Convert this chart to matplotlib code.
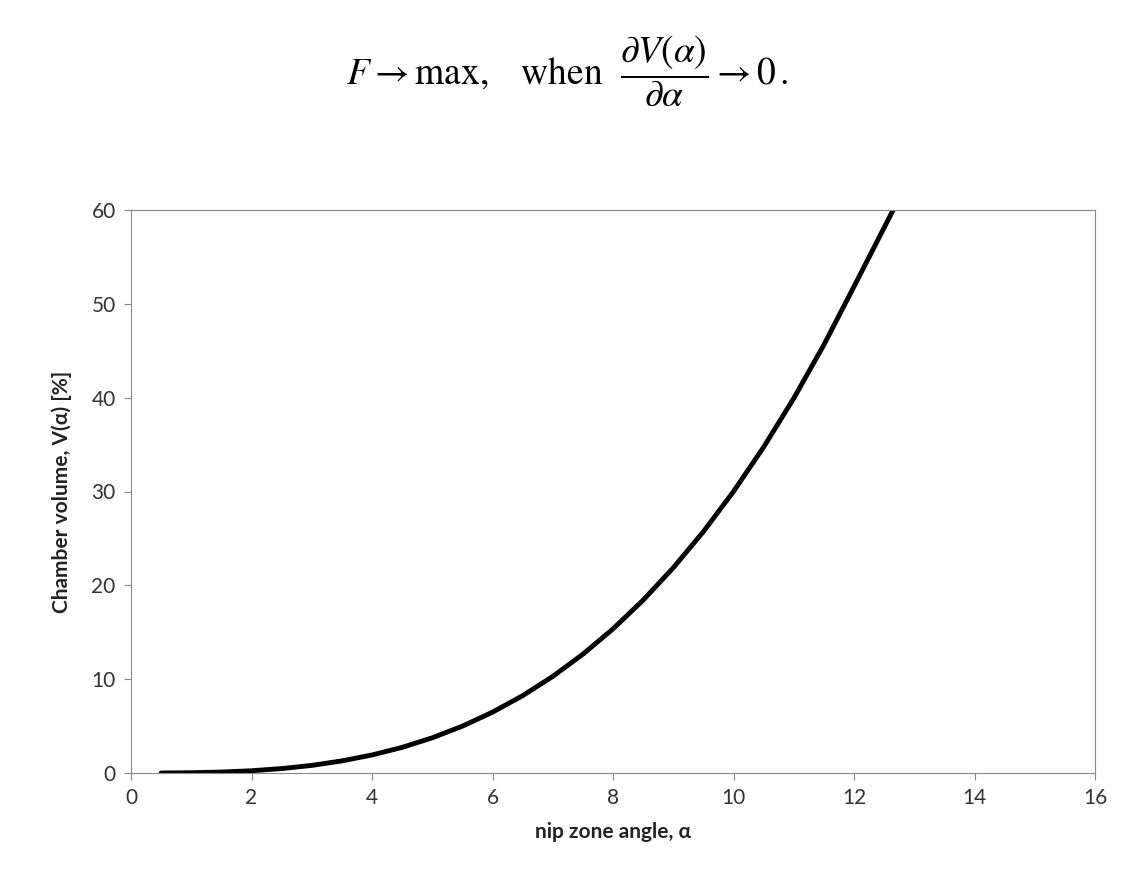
import matplotlib
matplotlib.use("Agg")
import matplotlib.pyplot as plt

x = [0.5, 1.0, 1.5, 2.0, 2.5, 3.0, 3.5, 4.0, 4.5, 5.0, 5.5, 6.0, 6.5, 7.0, 7.5,
     8.0, 8.5, 9.0, 9.5, 10.0, 10.5, 11.0, 11.5, 12.0, 12.65]
v = [0.0, 0.03, 0.1, 0.24, 0.47, 0.81, 1.29, 1.92, 2.73, 3.75, 4.99, 6.48, 8.24,
     10.29, 12.66, 15.36, 18.42, 21.87, 25.72, 30.0, 34.73, 39.93, 45.63, 51.84, 60.0]

xticks = [0, 2, 4, 6, 8, 10, 12, 14, 16]
yticks = [0, 10, 20, 30, 40, 50, 60]

plt.rcParams['mathtext.fontset'] = 'stix'
plt.rcParams['font.family'] = ['Lato', 'DejaVu Sans']
fig = plt.figure(figsize=(11.35, 8.94), dpi=100)
ax = fig.add_axes([131/1135, 1-773/894, (1095-131)/1135, (773-210)/894])
ax.plot(x, v, color='black', lw=3.5, solid_capstyle='round')
ax.set_xlim(0, 16)
ax.set_ylim(0, 60)
ax.set_xticks(xticks)
ax.set_yticks(yticks)
for s in ax.spines.values():
    s.set_color('#888888')
ax.tick_params(colors='#888888', labelcolor='#333333', labelsize=15, length=5, direction='out', pad=6)
ax.set_xlabel('nip zone angle, α', fontsize=15, fontweight='bold', color='#222222', labelpad=10)
ax.set_ylabel('Chamber volume, V(α) [%]', fontsize=15, fontweight='bold', color='#222222', labelpad=14)
fig.text(0.5, 1-70/894,
         r'$F \rightarrow \mathrm{max},\quad \mathrm{when}\ \ \dfrac{\partial V(\alpha)}{\partial \alpha} \rightarrow 0\,.$',
         ha='center', va='center', fontsize=27)
fig.savefig('out.png', dpi=100)
